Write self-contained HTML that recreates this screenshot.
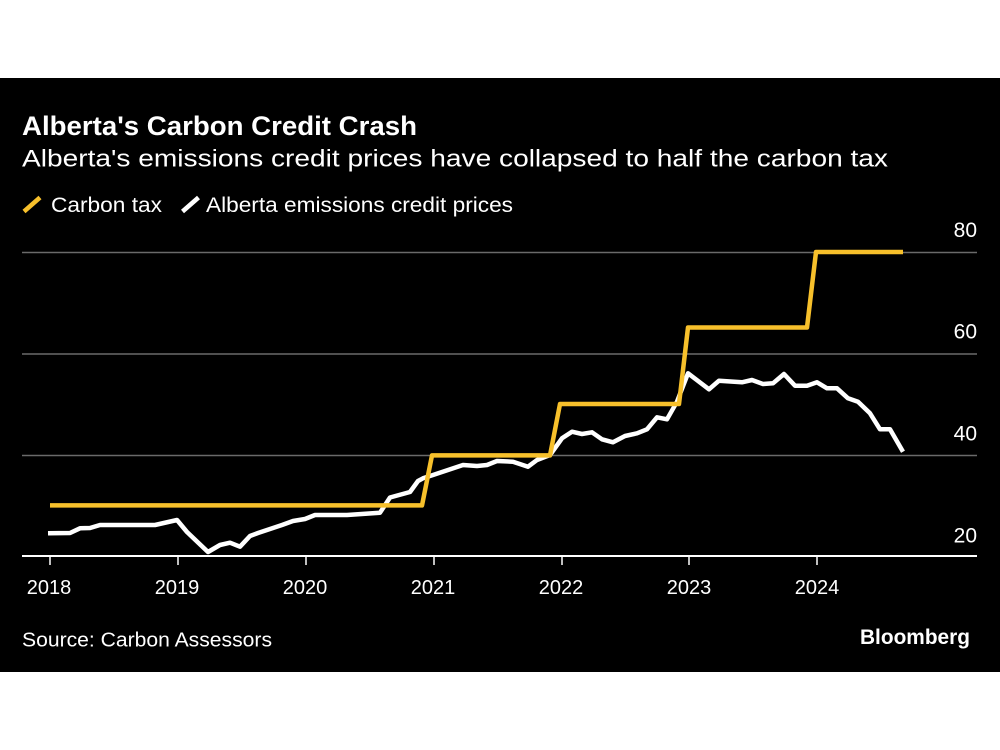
<!DOCTYPE html>
<html>
<head>
<meta charset="utf-8">
<style>
  html, body { margin: 0; padding: 0; background: #ffffff; }
  body { width: 1000px; height: 750px; overflow: hidden; }
  svg { display: block; }
  text { font-family: "Liberation Sans", "DejaVu Sans", sans-serif; fill: #ffffff; }
</style>
</head>
<body>
<svg width="1000" height="750" viewBox="0 0 1000 750" xmlns="http://www.w3.org/2000/svg">
  <rect x="0" y="0" width="1000" height="750" fill="#ffffff"/>
  <rect x="0" y="78" width="1000" height="594" fill="#000000"/>

  <!-- Title & subtitle -->
  <text x="22" y="135" font-size="27" font-weight="bold" textLength="395" lengthAdjust="spacingAndGlyphs">Alberta's Carbon Credit Crash</text>
  <text x="22" y="166.5" font-size="24" textLength="866" lengthAdjust="spacingAndGlyphs">Alberta's emissions credit prices have collapsed to half the carbon tax</text>

  <!-- Legend -->
  <line x1="24" y1="211.5" x2="40" y2="197.5" stroke="#f7c02b" stroke-width="4.5"/>
  <text x="51" y="212" font-size="21" textLength="111" lengthAdjust="spacingAndGlyphs">Carbon tax</text>
  <line x1="182.5" y1="211.5" x2="198.5" y2="197.5" stroke="#ffffff" stroke-width="4.5"/>
  <text x="206" y="212" font-size="21" textLength="307" lengthAdjust="spacingAndGlyphs">Alberta emissions credit prices</text>

  <!-- Gridlines -->
  <line x1="22" y1="252.5" x2="977" y2="252.5" stroke="#6a6a6a" stroke-width="1.5"/>
  <line x1="22" y1="354" x2="977" y2="354" stroke="#6a6a6a" stroke-width="1.5"/>
  <line x1="22" y1="455.5" x2="977" y2="455.5" stroke="#6a6a6a" stroke-width="1.5"/>

  <!-- Y labels -->
  <text x="977" y="237" font-size="21" text-anchor="end">80</text>
  <text x="977" y="338.5" font-size="21" text-anchor="end">60</text>
  <text x="977" y="440.5" font-size="21" text-anchor="end">40</text>
  <text x="977" y="542.5" font-size="21" text-anchor="end">20</text>

  <!-- Baseline & ticks -->
  <line x1="22" y1="556" x2="977" y2="556" stroke="#ffffff" stroke-width="2"/>
  <g stroke="#ffffff" stroke-width="1.5">
    <line x1="50" y1="556" x2="50" y2="565"/>
    <line x1="178" y1="556" x2="178" y2="565"/>
    <line x1="306" y1="556" x2="306" y2="565"/>
    <line x1="434" y1="556" x2="434" y2="565"/>
    <line x1="562" y1="556" x2="562" y2="565"/>
    <line x1="689" y1="556" x2="689" y2="565"/>
    <line x1="817" y1="556" x2="817" y2="565"/>
  </g>

  <!-- X labels -->
  <g font-size="20" text-anchor="middle">
    <text x="49" y="594">2018</text>
    <text x="177" y="594">2019</text>
    <text x="305" y="594">2020</text>
    <text x="433" y="594">2021</text>
    <text x="561" y="594">2022</text>
    <text x="689" y="594">2023</text>
    <text x="817" y="594">2024</text>
  </g>

  <!-- White series: Alberta emissions credit prices -->
  <polyline fill="none" stroke="#ffffff" stroke-width="4.5" stroke-linejoin="round" stroke-linecap="butt"
    points="48,533.3 70,533 80,528.3 90,528 100,525 155,525 177,520 187,532 208,552 220,545 230,542.7 240,546.7 250,536 258,533 270,529 282,525 293,521 305,519 315,515 347,515 380,512.7 390,497.5 410,492 418,481 423,478.3 433,475 463,465 477,466 487,465 497,461 513,461.7 528,466.7 537,460 550,455 562,438.3 572,431.7 582,434 592,432.3 602,439.3 613,442.3 625,436 637,433.3 647,429.3 657,417.3 667,419.3 677,401.7 688,373.3 709,389.3 719,380.7 742,382.3 752,380 763,384 773,383.3 784,374 795,385.7 807,385.7 817,382.3 827,388.3 837,388.3 848,398.3 858,401.7 870,413.3 880,429.3 890,429.3 903,451.7"/>

  <!-- Yellow series: Carbon tax -->
  <polyline fill="none" stroke="#f7c02b" stroke-width="4.5" stroke-linejoin="round" stroke-linecap="butt"
    points="50,505.4 422,505.4 432,455.4 550,455.4 560,404 679,404 688,327.5 807,327.5 816,252 903,252"/>

  <!-- Footer -->
  <text x="22" y="646.5" font-size="20" textLength="250" lengthAdjust="spacingAndGlyphs">Source: Carbon Assessors</text>
  <text x="860" y="644" font-size="21" font-weight="bold" textLength="110" lengthAdjust="spacingAndGlyphs">Bloomberg</text>
</svg>
</body>
</html>
